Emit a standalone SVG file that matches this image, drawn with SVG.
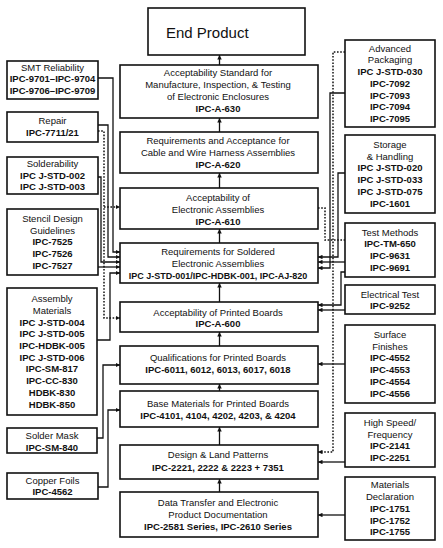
<svg xmlns="http://www.w3.org/2000/svg" width="443" height="548" viewBox="0 0 443 548">
<style>
.b{fill:#fff;stroke:#111;stroke-width:1.6}
.t{font-family:"Liberation Sans",Arial,sans-serif;font-size:9.5px;fill:#111;text-anchor:middle}
.k{font-weight:bold}
.c{fill:none;stroke:#111;stroke-width:1.3}
.d{fill:none;stroke:#111;stroke-width:1.5;stroke-dasharray:1.6 1.6}
</style>
<defs>
<marker id="a" viewBox="0 0 6 6" refX="6" refY="3" markerWidth="4.5" markerHeight="4.5" markerUnits="userSpaceOnUse" orient="auto"><path d="M0,0 L6,3 L0,6 z" fill="#111"/></marker>
</defs>
<rect width="443" height="548" fill="#fff"/>
<g id="connectors">
<path class="c" marker-end="url(#a)" d="M219.5,65 V55"/>
<path class="c" marker-end="url(#a)" d="M219.5,132 V118"/>
<path class="c" marker-end="url(#a)" d="M219.5,188 V173"/>
<path class="c" marker-end="url(#a)" d="M219.5,243 V229"/>
<path class="c" marker-end="url(#a)" d="M219.5,302 V283"/>
<path class="c" marker-end="url(#a)" d="M219.5,346 V332"/>
<path class="c" marker-end="url(#a)" d="M219.5,391 V384"/>
<path class="c" marker-end="url(#a)" d="M219.5,445 V427"/>
<path class="c" marker-end="url(#a)" d="M219.5,492 V479"/>
<path class="c" marker-end="url(#a)" d="M98,78 H113 V252 H120"/>
<path class="c" marker-end="url(#a)" d="M98,125 H108 V257 H120"/>
<path class="d" marker-end="url(#a)" d="M98,131 H104 V318 H120"/>
<path class="d" marker-end="url(#a)" d="M104,207 H120"/>
<path class="c" marker-end="url(#a)" d="M98,177 H101 V262 H120"/>
<path class="c" marker-end="url(#a)" d="M98,267 H120"/>
<path class="c" marker-end="url(#a)" d="M97,340 H110 V273 H120"/>
<path class="c" marker-end="url(#a)" d="M97,438 H103 V365 H120"/>
<path class="c" marker-end="url(#a)" d="M98,487 H108 V410 H120"/>
<path class="d" marker-end="url(#a)" d="M345,52 H333 V452 H318"/>
<path class="c" marker-end="url(#a)" d="M345,93 H330 V268 H318"/>
<path class="c" marker-end="url(#a)" d="M345,173 H338 V257 H318"/>
<path class="d" d="M318,208 H325 V240 H345"/>
<path class="c" marker-end="url(#a)" d="M345,262 H318"/>
<path class="c" marker-end="url(#a)" d="M345,272 H341 V305 H318"/>
<path class="c" marker-end="url(#a)" d="M345,310 H318"/>
<path class="c" marker-end="url(#a)" d="M345,364 H318"/>
<path class="c" marker-end="url(#a)" d="M345,462 H318"/>
<path class="c" marker-end="url(#a)" d="M345,515 H318"/>
</g>
<g id="end-product"><rect class="b" x="148" y="8" width="157" height="47" stroke-width="2"/><text x="166" y="38" style="font-family:'Liberation Sans',Arial,sans-serif;font-size:15px;fill:#111">End Product</text></g>
<g id="ipc-a-630"><rect class="b" x="120" y="65" width="198" height="53"/><text class="t" x="218"><tspan x="218" y="76">Acceptability Standard for</tspan><tspan x="218" y="88">Manufacture, Inspection, &amp; Testing</tspan><tspan x="218" y="100">of Electronic Enclosures</tspan><tspan class="k" x="218" y="112">IPC-A-630</tspan></text></g>
<g id="ipc-a-620"><rect class="b" x="120" y="132" width="198" height="41"/><text class="t"><tspan x="218" y="144">Requirements and Acceptance for</tspan><tspan x="218" y="156">Cable and Wire Harness Assemblies</tspan><tspan class="k" x="218" y="168">IPC-A-620</tspan></text></g>
<g id="ipc-a-610"><rect class="b" x="120" y="188" width="198" height="41"/><text class="t"><tspan x="218" y="200.5">Acceptability of</tspan><tspan x="218" y="212.5">Electronic Assemblies</tspan><tspan class="k" x="218" y="224.5">IPC-A-610</tspan></text></g>
<g id="j-std-001"><rect class="b" x="120" y="243" width="198" height="40"/><text class="t"><tspan x="218" y="255">Requirements for Soldered</tspan><tspan x="218" y="267">Electronic Assemblies</tspan><tspan class="k" x="218" y="279" style="font-size:9px">IPC J-STD-001/IPC-HDBK-001, IPC-AJ-820</tspan></text></g>
<g id="ipc-a-600"><rect class="b" x="120" y="302" width="198" height="30"/><text class="t"><tspan x="218" y="315.5">Acceptability of Printed Boards</tspan><tspan class="k" x="218" y="327">IPC-A-600</tspan></text></g>
<g id="qualifications"><rect class="b" x="120" y="346" width="198" height="38"/><text class="t"><tspan x="218" y="361">Qualifications for Printed Boards</tspan><tspan class="k" x="218" y="372.5">IPC-6011, 6012, 6013, 6017, 6018</tspan></text></g>
<g id="base-materials"><rect class="b" x="120" y="391" width="198" height="36"/><text class="t"><tspan x="218" y="406.5">Base Materials for Printed Boards</tspan><tspan class="k" x="218" y="418.5">IPC-4101, 4104, 4202, 4203, &amp; 4204</tspan></text></g>
<g id="design"><rect class="b" x="120" y="445" width="198" height="34"/><text class="t"><tspan x="218" y="458">Design &amp; Land Patterns</tspan><tspan class="k" x="218" y="470.5">IPC-2221, 2222 &amp; 2223 + 7351</tspan></text></g>
<g id="data-transfer"><rect class="b" x="120" y="492" width="198" height="45"/><text class="t"><tspan x="218" y="505.5">Data Transfer and Electronic</tspan><tspan x="218" y="517.5">Product Documentation</tspan><tspan class="k" x="218" y="530">IPC-2581 Series, IPC-2610 Series</tspan></text></g>
<g id="smt"><rect class="b" x="7" y="61" width="91" height="38"/><text class="t"><tspan x="52.5" y="70.5">SMT Reliability</tspan><tspan class="k" x="52.5" y="82">IPC-9701–IPC-9704</tspan><tspan class="k" x="52.5" y="93.5">IPC-9706–IPC-9709</tspan></text></g>
<g id="repair"><rect class="b" x="7" y="112" width="91" height="30"/><text class="t"><tspan x="52.5" y="124">Repair</tspan><tspan class="k" x="52.5" y="135.5">IPC-7711/21</tspan></text></g>
<g id="solderability"><rect class="b" x="7" y="157" width="91" height="37"/><text class="t"><tspan x="52.5" y="167">Solderability</tspan><tspan class="k" x="52.5" y="178.7">IPC J-STD-002</tspan><tspan class="k" x="52.5" y="190.4">IPC J-STD-003</tspan></text></g>
<g id="stencil"><rect class="b" x="7" y="209" width="91" height="66"/><text class="t"><tspan x="52.5" y="221.9">Stencil Design</tspan><tspan x="52.5" y="233.6">Guidelines</tspan><tspan class="k" x="52.5" y="245.3">IPC-7525</tspan><tspan class="k" x="52.5" y="257">IPC-7526</tspan><tspan class="k" x="52.5" y="268.7">IPC-7527</tspan></text></g>
<g id="assembly"><rect class="b" x="7" y="288" width="90" height="127"/><text class="t"><tspan x="52" y="302.2">Assembly</tspan><tspan x="52" y="313.9">Materials</tspan><tspan class="k" x="52" y="325.6">IPC J-STD-004</tspan><tspan class="k" x="52" y="337.3">IPC J-STD-005</tspan><tspan class="k" x="52" y="349">IPC-HDBK-005</tspan><tspan class="k" x="52" y="360.7">IPC J-STD-006</tspan><tspan class="k" x="52" y="372.4">IPC-SM-817</tspan><tspan class="k" x="52" y="384.1">IPC-CC-830</tspan><tspan class="k" x="52" y="395.8">HDBK-830</tspan><tspan class="k" x="52" y="407.5">HDBK-850</tspan></text></g>
<g id="solder-mask"><rect class="b" x="7" y="428" width="90" height="25"/><text class="t"><tspan x="52" y="439">Solder Mask</tspan><tspan class="k" x="52" y="450.5">IPC-SM-840</tspan></text></g>
<g id="copper-foils"><rect class="b" x="7" y="473" width="91" height="26"/><text class="t"><tspan x="52.5" y="483.5">Copper Foils</tspan><tspan class="k" x="52.5" y="495.2">IPC-4562</tspan></text></g>
<g id="advanced-packaging"><rect class="b" x="345" y="40" width="90" height="87"/><text class="t"><tspan x="390" y="51.7">Advanced</tspan><tspan x="390" y="63.4">Packaging</tspan><tspan class="k" x="390" y="75.1">IPC J-STD-030</tspan><tspan class="k" x="390" y="86.8">IPC-7092</tspan><tspan class="k" x="390" y="98.5">IPC-7093</tspan><tspan class="k" x="390" y="110.2">IPC-7094</tspan><tspan class="k" x="390" y="121.9">IPC-7095</tspan></text></g>
<g id="storage"><rect class="b" x="345" y="135" width="90" height="78"/><text class="t"><tspan x="390" y="148">Storage</tspan><tspan x="390" y="159.7">&amp; Handling</tspan><tspan class="k" x="390" y="171.4">IPC J-STD-020</tspan><tspan class="k" x="390" y="183.1">IPC J-STD-033</tspan><tspan class="k" x="390" y="194.8">IPC J-STD-075</tspan><tspan class="k" x="390" y="206.5">IPC-1601</tspan></text></g>
<g id="test-methods"><rect class="b" x="345" y="223" width="90" height="54"/><text class="t"><tspan x="390" y="235.7">Test Methods</tspan><tspan class="k" x="390" y="247.4">IPC-TM-650</tspan><tspan class="k" x="390" y="259.1">IPC-9631</tspan><tspan class="k" x="390" y="270.8">IPC-9691</tspan></text></g>
<g id="electrical-test"><rect class="b" x="345" y="285" width="90" height="29"/><text class="t"><tspan x="390" y="297.5">Electrical Test</tspan><tspan class="k" x="390" y="309.2">IPC-9252</tspan></text></g>
<g id="surface-finishes"><rect class="b" x="345" y="325" width="90" height="78"/><text class="t"><tspan x="390" y="338">Surface</tspan><tspan x="390" y="349.7">Finishes</tspan><tspan class="k" x="390" y="361.4">IPC-4552</tspan><tspan class="k" x="390" y="373.1">IPC-4553</tspan><tspan class="k" x="390" y="384.8">IPC-4554</tspan><tspan class="k" x="390" y="396.5">IPC-4556</tspan></text></g>
<g id="high-speed"><rect class="b" x="345" y="413" width="90" height="54"/><text class="t"><tspan x="390" y="425.8">High Speed/</tspan><tspan x="390" y="437.5">Frequency</tspan><tspan class="k" x="390" y="449.2">IPC-2141</tspan><tspan class="k" x="390" y="460.9">IPC-2251</tspan></text></g>
<g id="materials-declaration"><rect class="b" x="345" y="477" width="90" height="63"/><text class="t"><tspan x="390" y="488.4">Materials</tspan><tspan x="390" y="500.1">Declaration</tspan><tspan class="k" x="390" y="511.8">IPC-1751</tspan><tspan class="k" x="390" y="523.5">IPC-1752</tspan><tspan class="k" x="390" y="535.2">IPC-1755</tspan></text></g>
</svg>
